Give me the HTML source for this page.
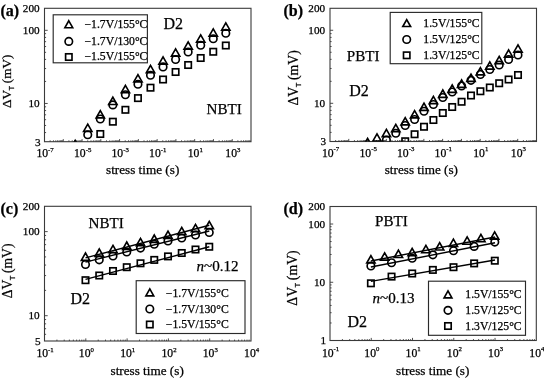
<!DOCTYPE html>
<html><head><meta charset="utf-8"><title>Figure</title>
<style>html,body{margin:0;padding:0;background:#fff}svg{display:block}</style>
</head><body>
<svg width="544" height="379" viewBox="0 0 544 379" font-family='"Liberation Serif", "DejaVu Serif", serif' fill="#000"><style>text{stroke:#000;stroke-width:0.25px}</style>
<rect width="544" height="379" fill="#fff"/>
<defs>
<clipPath id="ca"><rect x="44.5" y="8.3" width="206.5" height="133.39999999999998"/></clipPath>
<clipPath id="cb"><rect x="330" y="8.3" width="206.5" height="133.2"/></clipPath>
<clipPath id="cc"><rect x="44.5" y="206.3" width="206.5" height="134.7"/></clipPath>
<clipPath id="cd"><rect x="330" y="206.5" width="206.29999999999995" height="134.0"/></clipPath>
</defs>
<rect x="44.5" y="8.3" width="206.5" height="133.39999999999998" fill="none" stroke="#3a3a3a" stroke-width="1.1"/>
<path d="M50.15 141.7v-1.4M53.46 141.7v-1.4M55.80 141.7v-1.4M57.62 141.7v-1.4M59.11 141.7v-1.4M60.36 141.7v-1.4M61.45 141.7v-1.4M62.41 141.7v-1.4M63.27 141.7v-2.6M68.92 141.7v-1.4M72.23 141.7v-1.4M74.58 141.7v-1.4M76.39 141.7v-1.4M77.88 141.7v-1.4M79.14 141.7v-1.4M80.23 141.7v-1.4M81.19 141.7v-1.4M82.05 141.7v-2.6M87.70 141.7v-1.4M91.00 141.7v-1.4M93.35 141.7v-1.4M95.17 141.7v-1.4M96.65 141.7v-1.4M97.91 141.7v-1.4M99.00 141.7v-1.4M99.96 141.7v-1.4M100.82 141.7v-2.6M106.47 141.7v-1.4M109.78 141.7v-1.4M112.12 141.7v-1.4M113.94 141.7v-1.4M115.43 141.7v-1.4M116.68 141.7v-1.4M117.77 141.7v-1.4M118.73 141.7v-1.4M119.59 141.7v-2.6M125.24 141.7v-1.4M128.55 141.7v-1.4M130.89 141.7v-1.4M132.71 141.7v-1.4M134.20 141.7v-1.4M135.46 141.7v-1.4M136.54 141.7v-1.4M137.50 141.7v-1.4M138.36 141.7v-2.6M144.01 141.7v-1.4M147.32 141.7v-1.4M149.67 141.7v-1.4M151.49 141.7v-1.4M152.97 141.7v-1.4M154.23 141.7v-1.4M155.32 141.7v-1.4M156.28 141.7v-1.4M157.14 141.7v-2.6M162.79 141.7v-1.4M166.09 141.7v-1.4M168.44 141.7v-1.4M170.26 141.7v-1.4M171.74 141.7v-1.4M173.00 141.7v-1.4M174.09 141.7v-1.4M175.05 141.7v-1.4M175.91 141.7v-2.6M181.56 141.7v-1.4M184.87 141.7v-1.4M187.21 141.7v-1.4M189.03 141.7v-1.4M190.52 141.7v-1.4M191.77 141.7v-1.4M192.86 141.7v-1.4M193.82 141.7v-1.4M194.68 141.7v-2.6M200.33 141.7v-1.4M203.64 141.7v-1.4M205.98 141.7v-1.4M207.80 141.7v-1.4M209.29 141.7v-1.4M210.55 141.7v-1.4M211.64 141.7v-1.4M212.60 141.7v-1.4M213.45 141.7v-2.6M219.11 141.7v-1.4M222.41 141.7v-1.4M224.76 141.7v-1.4M226.58 141.7v-1.4M228.06 141.7v-1.4M229.32 141.7v-1.4M230.41 141.7v-1.4M231.37 141.7v-1.4M232.23 141.7v-2.6M237.88 141.7v-1.4M241.18 141.7v-1.4M243.53 141.7v-1.4M245.35 141.7v-1.4M246.84 141.7v-1.4M248.09 141.7v-1.4M249.18 141.7v-1.4M250.14 141.7v-1.4M44.5 132.56h1.6M44.5 125.47h1.6M44.5 119.68h1.6M44.5 114.79h1.6M44.5 110.54h1.6M44.5 106.80h1.6M44.5 103.46h3.2M44.5 81.44h1.6M44.5 68.56h1.6M44.5 59.42h1.6M44.5 52.33h1.6M44.5 46.54h1.6M44.5 41.65h1.6M44.5 37.41h1.6M44.5 33.66h1.6M44.5 30.32h3.2" stroke="#3a3a3a" stroke-width="0.9" fill="none"/>
<text x="45.10" y="156.70" font-size="11.7" text-anchor="middle">10<tspan font-size="6.8" dy="-5.1">-7</tspan></text>
<text x="82.65" y="156.70" font-size="11.7" text-anchor="middle">10<tspan font-size="6.8" dy="-5.1">-5</tspan></text>
<text x="120.19" y="156.70" font-size="11.7" text-anchor="middle">10<tspan font-size="6.8" dy="-5.1">-3</tspan></text>
<text x="157.74" y="156.70" font-size="11.7" text-anchor="middle">10<tspan font-size="6.8" dy="-5.1">-1</tspan></text>
<text x="195.28" y="156.70" font-size="11.7" text-anchor="middle">10<tspan font-size="6.8" dy="-5.1">1</tspan></text>
<text x="232.83" y="156.70" font-size="11.7" text-anchor="middle">10<tspan font-size="6.8" dy="-5.1">3</tspan></text>
<text x="39.6" y="11.90" font-size="11.2" text-anchor="end" transform="translate(0.0,0)">200</text>
<text x="39.6" y="33.92" font-size="11.2" text-anchor="end" transform="translate(0.0,0)">100</text>
<text x="39.6" y="107.06" font-size="11.2" text-anchor="end" transform="translate(0.0,0)">10</text>
<text x="40.7" y="145.60" font-size="11.2" text-anchor="end" transform="translate(0.0,0)">3</text>
<text x="0.5" y="15.50" font-size="16" font-weight="bold">(a)</text>
<text x="142.65" y="173.90" font-size="13.2" text-anchor="middle">stress time (s)</text>
<text transform="translate(10.90,81.20) rotate(-90)" font-size="13.3" text-anchor="middle">ΔV<tspan font-size="7.5" dy="3.2" dx="-0.6" font-family="'Liberation Sans', sans-serif">T</tspan><tspan dy="-3.2" dx="-0.8"> (mV)</tspan></text>
<g clip-path="url(#ca)" fill="none" stroke="#000" stroke-width="1.65">
<rect x="97.10" y="130.80" width="6.4" height="6.4"/>
<rect x="109.65" y="118.50" width="6.4" height="6.4"/>
<rect x="122.20" y="106.60" width="6.4" height="6.4"/>
<rect x="134.75" y="94.90" width="6.4" height="6.4"/>
<rect x="147.30" y="84.50" width="6.4" height="6.4"/>
<rect x="159.85" y="76.30" width="6.4" height="6.4"/>
<rect x="172.40" y="68.80" width="6.4" height="6.4"/>
<rect x="184.95" y="61.80" width="6.4" height="6.4"/>
<rect x="197.50" y="54.80" width="6.4" height="6.4"/>
<rect x="210.05" y="48.55" width="6.4" height="6.4"/>
<rect x="222.60" y="42.30" width="6.4" height="6.4"/>
<circle cx="87.75" cy="134.70" r="3.75"/>
<circle cx="100.30" cy="119.00" r="3.75"/>
<circle cx="112.85" cy="104.90" r="3.75"/>
<circle cx="125.40" cy="94.70" r="3.75"/>
<circle cx="137.95" cy="84.20" r="3.75"/>
<circle cx="150.50" cy="75.20" r="3.75"/>
<circle cx="163.05" cy="66.95" r="3.75"/>
<circle cx="175.60" cy="59.45" r="3.75"/>
<circle cx="188.15" cy="51.95" r="3.75"/>
<circle cx="200.70" cy="45.20" r="3.75"/>
<circle cx="213.25" cy="38.70" r="3.75"/>
<circle cx="225.80" cy="33.20" r="3.75"/>
<path d="M75.20 140.30L79.35 147.60L71.05 147.60Z"/>
<path d="M87.75 124.10L91.90 131.40L83.60 131.40Z"/>
<path d="M100.30 110.60L104.45 117.90L96.15 117.90Z"/>
<path d="M112.85 97.20L117.00 104.50L108.70 104.50Z"/>
<path d="M125.40 85.30L129.55 92.60L121.25 92.60Z"/>
<path d="M137.95 74.60L142.10 81.90L133.80 81.90Z"/>
<path d="M150.50 65.30L154.65 72.60L146.35 72.60Z"/>
<path d="M163.05 56.80L167.20 64.10L158.90 64.10Z"/>
<path d="M175.60 48.80L179.75 56.10L171.45 56.10Z"/>
<path d="M188.15 41.80L192.30 49.10L184.00 49.10Z"/>
<path d="M200.70 34.80L204.85 42.10L196.55 42.10Z"/>
<path d="M213.25 28.80L217.40 36.10L209.10 36.10Z"/>
<path d="M225.80 22.80L229.95 30.10L221.65 30.10Z"/>
</g>
<rect x="53.2" y="14.8" width="94.2" height="48.0" fill="#fff" stroke="#2a2a2a" stroke-width="1.15"/>
<g fill="none" stroke="#000" stroke-width="1.65"><path d="M68.80 20.80L72.70 27.70L64.90 27.70Z"/><circle cx="68.80" cy="41.40" r="3.75"/><rect x="65.60" y="53.80" width="6.4" height="6.4"/></g>
<text x="84.5" y="28.2" font-size="11.7">−1.7V/155°C</text>
<text x="84.5" y="44.6" font-size="11.7">−1.7V/130°C</text>
<text x="84.5" y="60.3" font-size="11.7">−1.5V/155°C</text>
<text x="163.5" y="29" font-size="16">D2</text>
<text x="206.5" y="113.5" font-size="15.1">NBTI</text>
<rect x="330" y="8.3" width="206.5" height="133.2" fill="none" stroke="#3a3a3a" stroke-width="1.1"/>
<path d="M335.65 141.5v-1.4M338.96 141.5v-1.4M341.30 141.5v-1.4M343.12 141.5v-1.4M344.61 141.5v-1.4M345.86 141.5v-1.4M346.95 141.5v-1.4M347.91 141.5v-1.4M348.77 141.5v-2.6M354.42 141.5v-1.4M357.73 141.5v-1.4M360.08 141.5v-1.4M361.89 141.5v-1.4M363.38 141.5v-1.4M364.64 141.5v-1.4M365.73 141.5v-1.4M366.69 141.5v-1.4M367.55 141.5v-2.6M373.20 141.5v-1.4M376.50 141.5v-1.4M378.85 141.5v-1.4M380.67 141.5v-1.4M382.15 141.5v-1.4M383.41 141.5v-1.4M384.50 141.5v-1.4M385.46 141.5v-1.4M386.32 141.5v-2.6M391.97 141.5v-1.4M395.28 141.5v-1.4M397.62 141.5v-1.4M399.44 141.5v-1.4M400.93 141.5v-1.4M402.18 141.5v-1.4M403.27 141.5v-1.4M404.23 141.5v-1.4M405.09 141.5v-2.6M410.74 141.5v-1.4M414.05 141.5v-1.4M416.39 141.5v-1.4M418.21 141.5v-1.4M419.70 141.5v-1.4M420.96 141.5v-1.4M422.04 141.5v-1.4M423.00 141.5v-1.4M423.86 141.5v-2.6M429.51 141.5v-1.4M432.82 141.5v-1.4M435.17 141.5v-1.4M436.99 141.5v-1.4M438.47 141.5v-1.4M439.73 141.5v-1.4M440.82 141.5v-1.4M441.78 141.5v-1.4M442.64 141.5v-2.6M448.29 141.5v-1.4M451.59 141.5v-1.4M453.94 141.5v-1.4M455.76 141.5v-1.4M457.24 141.5v-1.4M458.50 141.5v-1.4M459.59 141.5v-1.4M460.55 141.5v-1.4M461.41 141.5v-2.6M467.06 141.5v-1.4M470.37 141.5v-1.4M472.71 141.5v-1.4M474.53 141.5v-1.4M476.02 141.5v-1.4M477.27 141.5v-1.4M478.36 141.5v-1.4M479.32 141.5v-1.4M480.18 141.5v-2.6M485.83 141.5v-1.4M489.14 141.5v-1.4M491.48 141.5v-1.4M493.30 141.5v-1.4M494.79 141.5v-1.4M496.05 141.5v-1.4M497.14 141.5v-1.4M498.10 141.5v-1.4M498.95 141.5v-2.6M504.61 141.5v-1.4M507.91 141.5v-1.4M510.26 141.5v-1.4M512.08 141.5v-1.4M513.56 141.5v-1.4M514.82 141.5v-1.4M515.91 141.5v-1.4M516.87 141.5v-1.4M517.73 141.5v-2.6M523.38 141.5v-1.4M526.68 141.5v-1.4M529.03 141.5v-1.4M530.85 141.5v-1.4M532.34 141.5v-1.4M533.59 141.5v-1.4M534.68 141.5v-1.4M535.64 141.5v-1.4M330 132.38h1.6M330 125.30h1.6M330 119.52h1.6M330 114.63h1.6M330 110.39h1.6M330 106.66h1.6M330 103.31h3.2M330 81.33h1.6M330 68.47h1.6M330 59.35h1.6M330 52.27h1.6M330 46.49h1.6M330 41.60h1.6M330 37.36h1.6M330 33.63h1.6M330 30.28h3.2" stroke="#3a3a3a" stroke-width="0.9" fill="none"/>
<text x="330.60" y="156.50" font-size="11.7" text-anchor="middle">10<tspan font-size="6.8" dy="-5.1">-7</tspan></text>
<text x="368.15" y="156.50" font-size="11.7" text-anchor="middle">10<tspan font-size="6.8" dy="-5.1">-5</tspan></text>
<text x="405.69" y="156.50" font-size="11.7" text-anchor="middle">10<tspan font-size="6.8" dy="-5.1">-3</tspan></text>
<text x="443.24" y="156.50" font-size="11.7" text-anchor="middle">10<tspan font-size="6.8" dy="-5.1">-1</tspan></text>
<text x="480.78" y="156.50" font-size="11.7" text-anchor="middle">10<tspan font-size="6.8" dy="-5.1">1</tspan></text>
<text x="518.33" y="156.50" font-size="11.7" text-anchor="middle">10<tspan font-size="6.8" dy="-5.1">3</tspan></text>
<text x="39.6" y="11.90" font-size="11.2" text-anchor="end" transform="translate(285.5,0)">200</text>
<text x="39.6" y="33.88" font-size="11.2" text-anchor="end" transform="translate(285.5,0)">100</text>
<text x="39.6" y="106.91" font-size="11.2" text-anchor="end" transform="translate(285.5,0)">10</text>
<text x="40.7" y="145.40" font-size="11.2" text-anchor="end" transform="translate(285.5,0)">3</text>
<text x="283.5" y="15.50" font-size="16" font-weight="bold">(b)</text>
<text x="421.35" y="173.70" font-size="13.2" text-anchor="middle">stress time (s)</text>
<text transform="translate(297.60,77.90) rotate(-90)" font-size="13.8" text-anchor="middle">ΔV<tspan font-size="7.5" dy="3.2" dx="-0.6" font-family="'Liberation Sans', sans-serif">T</tspan><tspan dy="-3.2" dx="-0.8"> (mV)</tspan></text>
<g clip-path="url(#cb)" fill="none" stroke="#000" stroke-width="1.65">
<rect x="514.80" y="71.80" width="6.4" height="6.4"/>
<rect x="505.40" y="76.30" width="6.4" height="6.4"/>
<rect x="496.00" y="80.05" width="6.4" height="6.4"/>
<rect x="486.60" y="84.30" width="6.4" height="6.4"/>
<rect x="477.20" y="88.05" width="6.4" height="6.4"/>
<rect x="467.80" y="92.30" width="6.4" height="6.4"/>
<rect x="458.40" y="98.55" width="6.4" height="6.4"/>
<rect x="449.00" y="103.80" width="6.4" height="6.4"/>
<rect x="439.60" y="109.80" width="6.4" height="6.4"/>
<rect x="430.20" y="116.80" width="6.4" height="6.4"/>
<rect x="420.80" y="123.55" width="6.4" height="6.4"/>
<rect x="411.40" y="131.05" width="6.4" height="6.4"/>
<rect x="402.00" y="138.05" width="6.4" height="6.4"/>
<circle cx="518.00" cy="55.00" r="3.75"/>
<circle cx="508.60" cy="59.50" r="3.75"/>
<circle cx="499.20" cy="65.00" r="3.75"/>
<circle cx="489.80" cy="69.50" r="3.75"/>
<circle cx="480.40" cy="74.50" r="3.75"/>
<circle cx="471.00" cy="80.30" r="3.75"/>
<circle cx="461.60" cy="86.00" r="3.75"/>
<circle cx="452.20" cy="92.00" r="3.75"/>
<circle cx="442.80" cy="97.50" r="3.75"/>
<circle cx="433.40" cy="104.50" r="3.75"/>
<circle cx="424.00" cy="111.25" r="3.75"/>
<circle cx="414.60" cy="119.50" r="3.75"/>
<circle cx="405.20" cy="125.50" r="3.75"/>
<circle cx="395.80" cy="133.25" r="3.75"/>
<circle cx="386.40" cy="140.00" r="3.75"/>
<path d="M518.00 44.80L522.15 52.10L513.85 52.10Z"/>
<path d="M508.60 49.80L512.75 57.10L504.45 57.10Z"/>
<path d="M499.20 56.30L503.35 63.60L495.05 63.60Z"/>
<path d="M489.80 61.80L493.95 69.10L485.65 69.10Z"/>
<path d="M480.40 67.55L484.55 74.85L476.25 74.85Z"/>
<path d="M471.00 74.10L475.15 81.40L466.85 81.40Z"/>
<path d="M461.60 80.00L465.75 87.30L457.45 87.30Z"/>
<path d="M452.20 85.00L456.35 92.30L448.05 92.30Z"/>
<path d="M442.80 90.00L446.95 97.30L438.65 97.30Z"/>
<path d="M433.40 96.30L437.55 103.60L429.25 103.60Z"/>
<path d="M424.00 103.05L428.15 110.35L419.85 110.35Z"/>
<path d="M414.60 110.55L418.75 117.85L410.45 117.85Z"/>
<path d="M405.20 117.55L409.35 124.85L401.05 124.85Z"/>
<path d="M395.80 124.30L399.95 131.60L391.65 131.60Z"/>
<path d="M386.40 129.30L390.55 136.60L382.25 136.60Z"/>
<path d="M377.00 133.80L381.15 141.10L372.85 141.10Z"/>
<path d="M367.60 138.30L371.75 145.60L363.45 145.60Z"/>
</g>
<rect x="390.2" y="12.4" width="91.60000000000002" height="51.300000000000004" fill="#fff" stroke="#2a2a2a" stroke-width="1.15"/>
<g fill="none" stroke="#000" stroke-width="1.65"><path d="M406.70 19.60L410.60 26.50L402.80 26.50Z"/><circle cx="406.70" cy="39.50" r="3.75"/><rect x="403.50" y="52.10" width="6.4" height="6.4"/></g>
<text x="423.3" y="27.1" font-size="11.7">1.5V/155°C</text>
<text x="423.3" y="43.1" font-size="11.7">1.5V/125°C</text>
<text x="423.3" y="59.4" font-size="11.7">1.3V/125°C</text>
<text x="346.8" y="61.3" font-size="15.1">PBTI</text>
<text x="349.3" y="96.3" font-size="16">D2</text>
<rect x="44.5" y="206.3" width="206.5" height="134.7" fill="none" stroke="#3a3a3a" stroke-width="1.1"/>
<path d="M56.93 341v-1.4M64.21 341v-1.4M69.37 341v-1.4M73.37 341v-1.4M76.64 341v-1.4M79.40 341v-1.4M81.80 341v-1.4M83.91 341v-1.4M85.80 341v-2.6M98.23 341v-1.4M105.51 341v-1.4M110.67 341v-1.4M114.67 341v-1.4M117.94 341v-1.4M120.70 341v-1.4M123.10 341v-1.4M125.21 341v-1.4M127.10 341v-2.6M139.53 341v-1.4M146.81 341v-1.4M151.97 341v-1.4M155.97 341v-1.4M159.24 341v-1.4M162.00 341v-1.4M164.40 341v-1.4M166.51 341v-1.4M168.40 341v-2.6M180.83 341v-1.4M188.11 341v-1.4M193.27 341v-1.4M197.27 341v-1.4M200.54 341v-1.4M203.30 341v-1.4M205.70 341v-1.4M207.81 341v-1.4M209.70 341v-2.6M222.13 341v-1.4M229.41 341v-1.4M234.57 341v-1.4M238.57 341v-1.4M241.84 341v-1.4M244.60 341v-1.4M247.00 341v-1.4M249.11 341v-1.4M44.5 334.34h1.6M44.5 328.71h1.6M44.5 323.84h1.6M44.5 319.54h1.6M44.5 315.69h3.2M44.5 290.38h1.6M44.5 275.57h1.6M44.5 265.07h1.6M44.5 256.92h1.6M44.5 250.26h1.6M44.5 244.63h1.6M44.5 239.76h1.6M44.5 235.46h1.6M44.5 231.61h3.2" stroke="#3a3a3a" stroke-width="0.9" fill="none"/>
<text x="45.10" y="357.00" font-size="11.7" text-anchor="middle">10<tspan font-size="6.8" dy="-5.1">-1</tspan></text>
<text x="86.40" y="357.00" font-size="11.7" text-anchor="middle">10<tspan font-size="6.8" dy="-5.1">0</tspan></text>
<text x="127.70" y="357.00" font-size="11.7" text-anchor="middle">10<tspan font-size="6.8" dy="-5.1">1</tspan></text>
<text x="169.00" y="357.00" font-size="11.7" text-anchor="middle">10<tspan font-size="6.8" dy="-5.1">2</tspan></text>
<text x="210.30" y="357.00" font-size="11.7" text-anchor="middle">10<tspan font-size="6.8" dy="-5.1">3</tspan></text>
<text x="251.60" y="357.00" font-size="11.7" text-anchor="middle">10<tspan font-size="6.8" dy="-5.1">4</tspan></text>
<text x="39.6" y="209.90" font-size="11.2" text-anchor="end" transform="translate(0.0,0)">200</text>
<text x="39.6" y="235.21" font-size="11.2" text-anchor="end" transform="translate(0.0,0)">100</text>
<text x="39.6" y="319.29" font-size="11.2" text-anchor="end" transform="translate(0.0,0)">10</text>
<text x="40.7" y="344.90" font-size="11.2" text-anchor="end" transform="translate(0.0,0)">5</text>
<text x="0.5" y="213.50" font-size="16" font-weight="bold">(c)</text>
<text x="147.15" y="375.20" font-size="13.2" text-anchor="middle">stress time (s)</text>
<text transform="translate(11.50,270.85) rotate(-90)" font-size="13.6" text-anchor="middle">ΔV<tspan font-size="7.5" dy="3.2" dx="-0.6" font-family="'Liberation Sans', sans-serif">T</tspan><tspan dy="-3.2" dx="-0.8"> (mV)</tspan></text>
<g clip-path="url(#cc)" fill="none" stroke="#000" stroke-width="1.65">
<rect x="82.30" y="277.00" width="6.4" height="6.4"/>
<rect x="96.05" y="272.30" width="6.4" height="6.4"/>
<rect x="109.80" y="267.80" width="6.4" height="6.4"/>
<rect x="123.55" y="264.00" width="6.4" height="6.4"/>
<rect x="137.30" y="260.10" width="6.4" height="6.4"/>
<rect x="151.05" y="256.70" width="6.4" height="6.4"/>
<rect x="164.80" y="253.20" width="6.4" height="6.4"/>
<rect x="178.55" y="249.80" width="6.4" height="6.4"/>
<rect x="192.30" y="246.30" width="6.4" height="6.4"/>
<rect x="206.05" y="243.55" width="6.4" height="6.4"/>
<circle cx="85.50" cy="264.50" r="3.75"/>
<circle cx="99.25" cy="259.80" r="3.75"/>
<circle cx="113.00" cy="256.00" r="3.75"/>
<circle cx="126.75" cy="252.00" r="3.75"/>
<circle cx="140.50" cy="248.10" r="3.75"/>
<circle cx="154.25" cy="244.20" r="3.75"/>
<circle cx="168.00" cy="241.00" r="3.75"/>
<circle cx="181.75" cy="238.00" r="3.75"/>
<circle cx="195.50" cy="235.00" r="3.75"/>
<circle cx="209.25" cy="232.50" r="3.75"/>
<path d="M85.50 253.00L89.65 260.30L81.35 260.30Z"/>
<path d="M99.25 249.00L103.40 256.30L95.10 256.30Z"/>
<path d="M113.00 245.40L117.15 252.70L108.85 252.70Z"/>
<path d="M126.75 242.00L130.90 249.30L122.60 249.30Z"/>
<path d="M140.50 238.40L144.65 245.70L136.35 245.70Z"/>
<path d="M154.25 235.00L158.40 242.30L150.10 242.30Z"/>
<path d="M168.00 231.20L172.15 238.50L163.85 238.50Z"/>
<path d="M181.75 227.30L185.90 234.60L177.60 234.60Z"/>
<path d="M195.50 224.30L199.65 231.60L191.35 231.60Z"/>
<path d="M209.25 221.30L213.40 228.60L205.10 228.60Z"/>
</g>
<path d="M85.5 257.9L209.3 225.3" stroke="#000" stroke-width="1.4" fill="none"/>
<path d="M85.5 262.1L209.3 231.0" stroke="#000" stroke-width="1.4" fill="none"/>
<path d="M85.5 279.4L209.3 246.8" stroke="#000" stroke-width="1.4" fill="none"/>
<rect x="136.2" y="280.7" width="108.80000000000001" height="52.80000000000001" fill="#fff" stroke="#2a2a2a" stroke-width="1.15"/>
<g fill="none" stroke="#000" stroke-width="1.65"><path d="M149.80 288.90L153.70 295.80L145.90 295.80Z"/><circle cx="149.80" cy="309.00" r="3.75"/><rect x="146.60" y="321.30" width="6.4" height="6.4"/></g>
<text x="165.8" y="297.1" font-size="11.7">−1.7V/155°C</text>
<text x="165.8" y="312.7" font-size="11.7">−1.7V/130°C</text>
<text x="165.8" y="328.3" font-size="11.7">−1.5V/155°C</text>
<text x="88.5" y="227.5" font-size="15.1">NBTI</text>
<text x="70.5" y="303.5" font-size="16">D2</text>
<text x="196.5" y="270.8" font-size="15.1"><tspan font-style="italic">n</tspan>~0.12</text>
<rect x="330" y="206.5" width="206.29999999999995" height="134.0" fill="none" stroke="#3a3a3a" stroke-width="1.1"/>
<path d="M342.42 340.5v-1.4M349.69 340.5v-1.4M354.84 340.5v-1.4M358.84 340.5v-1.4M362.11 340.5v-1.4M364.87 340.5v-1.4M367.26 340.5v-1.4M369.37 340.5v-1.4M371.26 340.5v-2.6M383.68 340.5v-1.4M390.95 340.5v-1.4M396.10 340.5v-1.4M400.10 340.5v-1.4M403.37 340.5v-1.4M406.13 340.5v-1.4M408.52 340.5v-1.4M410.63 340.5v-1.4M412.52 340.5v-2.6M424.94 340.5v-1.4M432.21 340.5v-1.4M437.36 340.5v-1.4M441.36 340.5v-1.4M444.63 340.5v-1.4M447.39 340.5v-1.4M449.78 340.5v-1.4M451.89 340.5v-1.4M453.78 340.5v-2.6M466.20 340.5v-1.4M473.47 340.5v-1.4M478.62 340.5v-1.4M482.62 340.5v-1.4M485.89 340.5v-1.4M488.65 340.5v-1.4M491.04 340.5v-1.4M493.15 340.5v-1.4M495.04 340.5v-2.6M507.46 340.5v-1.4M514.73 340.5v-1.4M519.88 340.5v-1.4M523.88 340.5v-1.4M527.15 340.5v-1.4M529.91 340.5v-1.4M532.30 340.5v-1.4M534.41 340.5v-1.4M330 322.97h1.6M330 312.71h1.6M330 305.44h1.6M330 299.80h1.6M330 295.18h1.6M330 291.29h1.6M330 287.91h1.6M330 284.93h1.6M330 282.27h3.2M330 264.73h1.6M330 254.48h1.6M330 247.20h1.6M330 241.56h1.6M330 236.95h1.6M330 233.05h1.6M330 229.67h1.6M330 226.70h1.6M330 224.03h3.2" stroke="#3a3a3a" stroke-width="0.9" fill="none"/>
<text x="330.60" y="356.50" font-size="11.7" text-anchor="middle">10<tspan font-size="6.8" dy="-5.1">-1</tspan></text>
<text x="371.86" y="356.50" font-size="11.7" text-anchor="middle">10<tspan font-size="6.8" dy="-5.1">0</tspan></text>
<text x="413.12" y="356.50" font-size="11.7" text-anchor="middle">10<tspan font-size="6.8" dy="-5.1">1</tspan></text>
<text x="454.38" y="356.50" font-size="11.7" text-anchor="middle">10<tspan font-size="6.8" dy="-5.1">2</tspan></text>
<text x="495.64" y="356.50" font-size="11.7" text-anchor="middle">10<tspan font-size="6.8" dy="-5.1">3</tspan></text>
<text x="536.90" y="356.50" font-size="11.7" text-anchor="middle">10<tspan font-size="6.8" dy="-5.1">4</tspan></text>
<text x="39.6" y="210.10" font-size="11.2" text-anchor="end" transform="translate(285.5,0)">200</text>
<text x="39.6" y="227.63" font-size="11.2" text-anchor="end" transform="translate(285.5,0)">100</text>
<text x="39.6" y="285.87" font-size="11.2" text-anchor="end" transform="translate(285.5,0)">10</text>
<text x="40.7" y="344.40" font-size="11.2" text-anchor="end" transform="translate(285.5,0)">1</text>
<text x="283.5" y="213.70" font-size="16" font-weight="bold">(d)</text>
<text x="432.75" y="374.70" font-size="13.2" text-anchor="middle">stress time (s)</text>
<text transform="translate(297.00,278.00) rotate(-90)" font-size="13.8" text-anchor="middle">ΔV<tspan font-size="7.5" dy="3.2" dx="-0.6" font-family="'Liberation Sans', sans-serif">T</tspan><tspan dy="-3.2" dx="-0.8"> (mV)</tspan></text>
<g clip-path="url(#cd)" fill="none" stroke="#000" stroke-width="1.65">
<rect x="367.70" y="280.10" width="6.4" height="6.4"/>
<rect x="388.35" y="273.40" width="6.4" height="6.4"/>
<rect x="409.00" y="270.30" width="6.4" height="6.4"/>
<rect x="429.65" y="266.70" width="6.4" height="6.4"/>
<rect x="450.30" y="264.00" width="6.4" height="6.4"/>
<rect x="470.95" y="260.20" width="6.4" height="6.4"/>
<rect x="491.60" y="257.50" width="6.4" height="6.4"/>
<circle cx="370.90" cy="266.00" r="3.75"/>
<circle cx="391.55" cy="262.70" r="3.75"/>
<circle cx="412.20" cy="258.20" r="3.75"/>
<circle cx="432.85" cy="254.80" r="3.75"/>
<circle cx="453.50" cy="250.70" r="3.75"/>
<circle cx="474.15" cy="246.40" r="3.75"/>
<circle cx="494.80" cy="242.10" r="3.75"/>
<path d="M370.90 255.70L375.05 263.00L366.75 263.00Z"/>
<path d="M384.65 252.80L388.80 260.10L380.50 260.10Z"/>
<path d="M398.40 250.20L402.55 257.50L394.25 257.50Z"/>
<path d="M412.15 248.30L416.30 255.60L408.00 255.60Z"/>
<path d="M425.90 245.40L430.05 252.70L421.75 252.70Z"/>
<path d="M439.65 242.70L443.80 250.00L435.50 250.00Z"/>
<path d="M453.40 239.10L457.55 246.40L449.25 246.40Z"/>
<path d="M467.15 236.90L471.30 244.20L463.00 244.20Z"/>
<path d="M480.90 234.40L485.05 241.70L476.75 241.70Z"/>
<path d="M494.65 231.90L498.80 239.20L490.50 239.20Z"/>
</g>
<path d="M370.9 261.0L495 237.0" stroke="#000" stroke-width="1.4" fill="none"/>
<path d="M370.9 267.0L495 242.8" stroke="#000" stroke-width="1.4" fill="none"/>
<path d="M370.9 281.4L495 260.0" stroke="#000" stroke-width="1.4" fill="none"/>
<rect x="428.5" y="281.2" width="97.0" height="54.10000000000002" fill="#fff" stroke="#2a2a2a" stroke-width="1.15"/>
<g fill="none" stroke="#000" stroke-width="1.65"><path d="M448.00 290.90L451.90 297.80L444.10 297.80Z"/><circle cx="448.00" cy="310.30" r="3.75"/><rect x="444.80" y="322.80" width="6.4" height="6.4"/></g>
<text x="465.3" y="298.3" font-size="11.7">1.5V/155°C</text>
<text x="465.3" y="314.1" font-size="11.7">1.5V/125°C</text>
<text x="465.3" y="330.0" font-size="11.7">1.3V/125°C</text>
<text x="375" y="225.7" font-size="15.1">PBTI</text>
<text x="347.5" y="326.5" font-size="16">D2</text>
<text x="372.5" y="302.8" font-size="15.1"><tspan font-style="italic">n</tspan>~0.13</text>
</svg>
</body></html>
